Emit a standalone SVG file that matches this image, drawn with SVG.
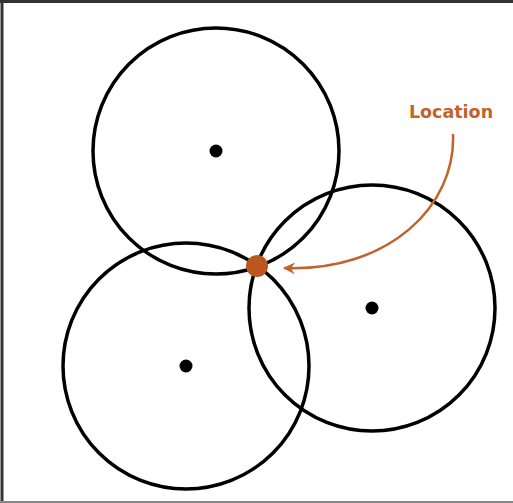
<svg xmlns="http://www.w3.org/2000/svg" width="513" height="503" viewBox="0 0 513 503">
<style>
.c{fill:none;stroke:#000;stroke-width:3.5}
.ctr{fill:#000}
.lbl{font-family:"DejaVu Sans",Verdana,sans-serif;font-weight:bold;font-size:17.5px;fill:#C0642C}
</style>
<defs>
<marker id="ah" markerWidth="14" markerHeight="14" refX="11" refY="6" orient="auto" markerUnits="userSpaceOnUse">
<path d="M0,0 L12,6 L0,12 L4,6 Z" fill="#C0642C"/>
</marker>
</defs>
<rect width="513" height="503" fill="#fff"/>
<line x1="0" y1="1.5" x2="513" y2="1.5" stroke="#333" stroke-width="3"/>
<line x1="2" y1="0" x2="2" y2="503" stroke="#333" stroke-width="3"/>
<line x1="0" y1="502" x2="513" y2="502" stroke="#888" stroke-width="2"/>
<g id="circle-top"><circle class="c" cx="216" cy="151" r="123"/><circle class="ctr" cx="216" cy="151" r="6.5"/></g>
<g id="circle-left"><circle class="c" cx="186" cy="366" r="123"/><circle class="ctr" cx="186" cy="366" r="6.5"/></g>
<g id="circle-right"><circle class="c" cx="372" cy="308" r="123"/><circle class="ctr" cx="372" cy="308" r="6.5"/></g>
<g id="connectors">
<path d="M453,134 C456,205 390,272 284,268" fill="none" stroke="#C0642C" stroke-width="2.5" marker-end="url(#ah)"/>
</g>
<g id="location">
<circle cx="257" cy="266" r="11" fill="#B9571F"/>
<text class="lbl" x="451" y="118" text-anchor="middle">Location</text>
</g>
</svg>
